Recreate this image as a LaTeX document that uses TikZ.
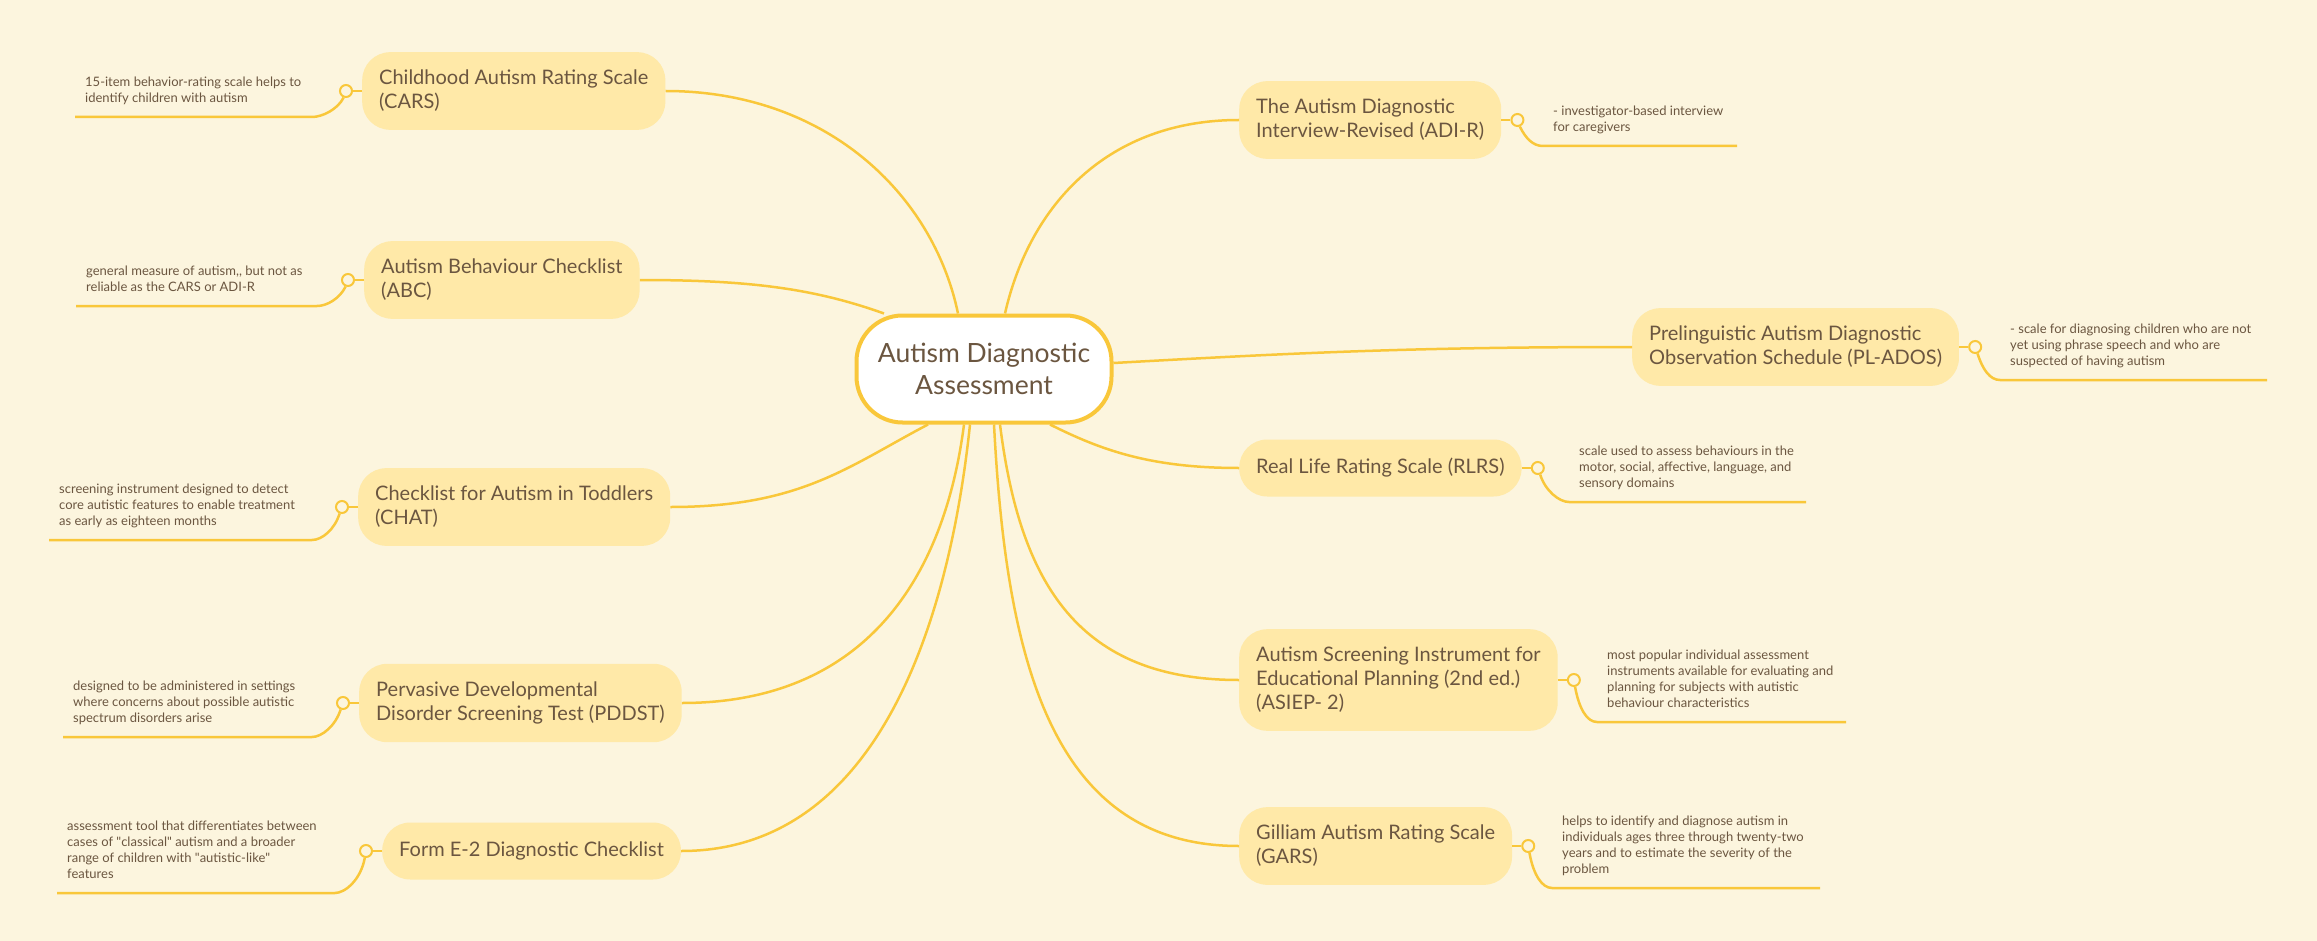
\documentclass[tikz,border=0pt]{standalone}
\usepackage{fontspec}
\setmainfont{Lato}
\usetikzlibrary{positioning}
\definecolor{paper}{HTML}{FCF5DE}
\definecolor{topicfill}{HTML}{FFE9A8}
\definecolor{branchline}{HTML}{F9C73A}
\definecolor{ink}{HTML}{6B5640}
\tikzset{
  root/.style={draw=branchline, line width=4pt, fill=white, rounded corners=46pt,
    align=center, text=ink, font=\fontsize{26.5}{32}\selectfont,
    minimum width=255pt, minimum height=107pt},
  topic/.style={fill=topicfill, rounded corners=28pt, align=left, text=ink,
    font=\fontsize{20}{24}\selectfont, inner xsep=17pt, inner ysep=18pt,
    minimum height=57pt},
  note/.style={align=left, text=ink, font=\fontsize{13}{16}\selectfont,
    inner xsep=10pt, inner ysep=11pt, text depth=3pt},
  dot/.style={circle, draw=branchline, fill=paper, line width=2pt,
    inner sep=0pt, minimum size=12pt},
  link/.style={draw=branchline, line width=2.5pt}
}
\begin{document}
\begin{tikzpicture}[x=1pt, y=-1pt]
      \fill[paper] (0,0) rectangle (2317,941);
      \useasboundingbox (0,0) rectangle (2317,941);
      \node[root] (root) at (984,369) {Autism Diagnostic\\Assessment};
      \path
        (362,91) node[topic, anchor=west] (cars) {Childhood Autism Rating Scale\\(CARS)}
        (364,280) node[topic, anchor=west] (abc) {Autism Behaviour Checklist\\(ABC)}
        (358,507) node[topic, anchor=west] (chat) {Checklist for Autism in Toddlers\\(CHAT)}
        (359,703) node[topic, anchor=west] (pddst) {Pervasive Developmental\\Disorder Screening Test (PDDST)}
        (382,851) node[topic, anchor=west] (forme) {Form E-2 Diagnostic Checklist}
        (1239,120) node[topic, anchor=west] (adir) {The Autism Diagnostic\\Interview-Revised (ADI-R)}
        (1632,347) node[topic, anchor=west] (plados) {Prelinguistic Autism Diagnostic\\Observation Schedule (PL-ADOS)}
        (1239,468) node[topic, anchor=west] (rlrs) {Real Life Rating Scale (RLRS)}
        (1239,680) node[topic, anchor=west] (asiep) {Autism Screening Instrument for\\Educational Planning (2nd ed.)\\(ASIEP- 2)}
        (1239,846) node[topic, anchor=west] (gars) {Gilliam Autism Rating Scale\\(GARS)};
      % dots beside the topics
      \node[dot, left=9pt of cars] (cars-dot) {};
      \node[dot, left=9pt of abc] (abc-dot) {};
      \node[dot, left=9pt of chat] (chat-dot) {};
      \node[dot, left=9pt of pddst] (pddst-dot) {};
      \node[dot, left=9pt of forme] (forme-dot) {};
      \node[dot, right=9pt of adir] (adir-dot) {};
      \node[dot, right=9pt of plados] (plados-dot) {};
      \node[dot, right=9pt of rlrs] (rlrs-dot) {};
      \node[dot, right=9pt of asiep] (asiep-dot) {};
      \node[dot, right=9pt of gars] (gars-dot) {};
      % notes
      \node[note, anchor=south west] (cars-note) at (75,117) {15-item behavior-rating scale helps to\\identify children with autism};
      \node[note, anchor=south west] (abc-note) at (76,306) {general measure of autism,{},{} but not as\\reliable as the CARS or ADI-R};
      \node[note, anchor=south west] (chat-note) at (49,540) {screening instrument designed to detect\\core autistic features to enable treatment\\as early as eighteen months};
      \node[note, anchor=south west] (pddst-note) at (63,737) {designed to be administered in settings\\where concerns about possible autistic\\spectrum disorders arise};
      \node[note, anchor=south west] (forme-note) at (57,893) {assessment tool that differentiates between\\cases of \textquotedbl classical\textquotedbl{} autism and a broader\\range of children with \textquotedbl autistic-like\textquotedbl\\features};
      \node[note, anchor=south west] (adir-note) at (1543,146) {- investigator-based interview\\for caregivers};
      \node[note, anchor=south west] (plados-note) at (2000,380) {- scale for diagnosing children who are not\\yet using phrase speech and who are\\suspected of having autism};
      \node[note, anchor=south west] (rlrs-note) at (1569,502) {scale used to assess behaviours in the\\motor, social, affective, language, and\\sensory domains};
      \node[note, anchor=south west] (asiep-note) at (1597,722) {most popular individual assessment\\instruments available for evaluating and\\planning for subjects with autistic\\behaviour characteristics};
      \node[note, anchor=south west] (gars-note) at (1552,888) {helps to identify and diagnose autism in\\individuals ages three through twenty-two\\years and to estimate the severity of the\\problem};
      \coordinate (cars-bend) at (312,117);
      \coordinate (abc-bend) at (317,306);
      \coordinate (chat-bend) at (312,540);
      \coordinate (pddst-bend) at (312,737);
      \coordinate (forme-bend) at (335,893);
      \coordinate (adir-end) at (1737,146);
      \coordinate (plados-end) at (2267,380);
      \coordinate (rlrs-end) at (1806,502);
      \coordinate (asiep-end) at (1846,722);
      \coordinate (gars-end) at (1820,888);
      \begin{scope}[link]
        % branches from the root
        \draw ([xshift=-26pt]root.north) .. controls +(-25,-120) and +(160,0) .. (cars.east);
        \draw ([xshift=-100pt]root.north) .. controls +(-70,-25) and +(110,0) .. (abc.east);
        \draw ([xshift=-56pt]root.south) .. controls +(-80,42) and +(130,0) .. (chat.east);
        \draw ([xshift=-20pt]root.south) .. controls +(-22,170) and +(170,0) .. (pddst.east);
        \draw ([xshift=-14pt]root.south) .. controls +(-20,190) and +(200,0) .. (forme.east);
        \draw ([xshift=21pt]root.north) .. controls +(25,-110) and +(-130,0) .. (adir.west);
        \draw ([yshift=6pt]root.east) .. controls +(180,-10) and +(-220,0) .. (plados.west);
        \draw ([xshift=66pt]root.south) .. controls +(50,25) and +(-90,0) .. (rlrs.west);
        \draw ([xshift=16pt]root.south) .. controls +(20,160) and +(-160,0) .. (asiep.west);
        \draw ([xshift=10pt]root.south) .. controls +(12,230) and +(-190,0) .. (gars.west);
        % topics to dots
        \draw (cars) -- (cars-dot);
        \draw (abc) -- (abc-dot);
        \draw (chat) -- (chat-dot);
        \draw (pddst) -- (pddst-dot);
        \draw (forme) -- (forme-dot);
        \draw (adir) -- (adir-dot);
        \draw (plados) -- (plados-dot);
        \draw (rlrs) -- (rlrs-dot);
        \draw (asiep) -- (asiep-dot);
        \draw (gars) -- (gars-dot);
        % dots to note lines
        \draw (cars-dot.-110) .. controls +(-6,12) and +(10,0) .. (cars-bend) -- (cars-note.south west);
        \draw (abc-dot.-110) .. controls +(-6,12) and +(10,0) .. (abc-bend) -- (abc-note.south west);
        \draw (chat-dot.-110) .. controls +(-5,16) and +(10,0) .. (chat-bend) -- (chat-note.south west);
        \draw (pddst-dot.-110) .. controls +(-5,16) and +(10,0) .. (pddst-bend) -- (pddst-note.south west);
        \draw (forme-dot.-100) .. controls +(-4,22) and +(10,0) .. (forme-bend) -- (forme-note.south west);
        \draw (adir-dot.-70) .. controls +(6,12) and +(-10,0) .. (adir-note.south west) -- (adir-end);
        \draw (plados-dot.-70) .. controls +(5,16) and +(-10,0) .. (plados-note.south west) -- (plados-end);
        \draw (rlrs-dot.-70) .. controls +(5,16) and +(-10,0) .. (rlrs-note.south west) -- (rlrs-end);
        \draw (asiep-dot.-80) .. controls +(4,22) and +(-10,0) .. (asiep-note.south west) -- (asiep-end);
        \draw (gars-dot.-80) .. controls +(4,22) and +(-10,0) .. (gars-note.south west) -- (gars-end);
      \end{scope}
    \end{tikzpicture}
\end{document}
